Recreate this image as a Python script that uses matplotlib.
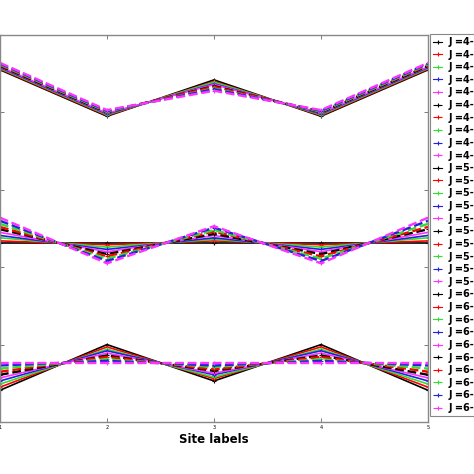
import matplotlib
matplotlib.use("Agg")
import matplotlib.pyplot as plt

sites = [1, 2, 3, 4, 5]
colors = ['#000000', '#ff0000', '#33dd33', '#2222dd', '#ff33ff']

# J = 4 family (10 curves), values at sites 1..5
j4_values = [
    [4.55, 3.95, 4.42, 3.95, 4.55],
    [4.56, 3.96, 4.40, 3.96, 4.56],
    [4.57, 3.97, 4.39, 3.97, 4.57],
    [4.58, 3.98, 4.37, 3.98, 4.58],
    [4.59, 3.99, 4.36, 3.99, 4.59],
    [4.60, 4.00, 4.34, 4.00, 4.60],
    [4.61, 4.01, 4.33, 4.01, 4.61],
    [4.62, 4.01, 4.31, 4.01, 4.62],
    [4.63, 4.02, 4.30, 4.02, 4.63],
    [4.64, 4.03, 4.28, 4.03, 4.64],
]
# J = 5 family
j5_values = [
    [2.31, 2.31, 2.31, 2.31, 2.31],
    [2.34, 2.29, 2.34, 2.29, 2.34],
    [2.38, 2.26, 2.36, 2.26, 2.38],
    [2.41, 2.23, 2.38, 2.23, 2.41],
    [2.45, 2.20, 2.41, 2.20, 2.45],
    [2.49, 2.17, 2.43, 2.17, 2.49],
    [2.52, 2.14, 2.46, 2.14, 2.52],
    [2.56, 2.11, 2.48, 2.11, 2.56],
    [2.60, 2.08, 2.51, 2.08, 2.60],
    [2.64, 2.05, 2.53, 2.05, 2.64],
]
# J = 6 family
j6_values = [
    [0.41, 1.00, 0.53, 1.00, 0.41],
    [0.45, 0.97, 0.56, 0.97, 0.45],
    [0.49, 0.94, 0.58, 0.94, 0.49],
    [0.53, 0.92, 0.61, 0.92, 0.53],
    [0.57, 0.89, 0.63, 0.89, 0.57],
    [0.61, 0.86, 0.66, 0.86, 0.61],
    [0.65, 0.84, 0.68, 0.84, 0.65],
    [0.69, 0.81, 0.71, 0.81, 0.69],
    [0.73, 0.79, 0.73, 0.79, 0.73],
    [0.76, 0.76, 0.76, 0.76, 0.76],
]
families = [("4", j4_values), ("5", j5_values), ("6", j6_values)]
suffixes = ["0.1", "0.2", "0.3", "0.4", "0.5", "0.6", "0.7", "0.8", "0.9", "1.0"]

fig = plt.figure(figsize=(4.74, 4.74), dpi=100)
ax = fig.add_axes([0.0, 52 / 474, 428 / 474, 387 / 474])

for jname, rows in families:
    for k, row in enumerate(rows):
        ls = '-' if k < 5 else '--'
        lw = 1.2 if k < 5 else 1.7
        ax.plot(sites, row, color=colors[k % 5], linestyle=ls, linewidth=lw,
                marker='+', markersize=3, markeredgewidth=0.8,
                label=f"J ={jname}-{suffixes[k]}")

ax.set_xlim(1, 5)
ax.set_ylim(0, 5)
ax.set_xticks(sites)
ax.set_yticks([0, 1, 2, 3, 4, 5])
ax.tick_params(direction='in', top=True, right=True, labelsize=3.5,
               length=3, width=0.6, color='#666666', pad=2)
ax.set_yticklabels([])
for s in ax.spines.values():
    s.set_color('#888888')
    s.set_linewidth(1.0)
ax.set_xlabel("Site labels", fontsize=8.5, fontweight='bold', labelpad=2)

leg = ax.legend(loc='upper left', bbox_to_anchor=(1.0047, 1.0026), borderaxespad=0,
                prop={'weight': 'bold', 'size': 7}, labelspacing=0.27,
                handlelength=0.95, handletextpad=0.7, borderpad=0.3,
                fancybox=False, edgecolor='#888888', framealpha=1)
leg.get_frame().set_linewidth(0.8)
for h in leg.get_lines():
    h.set_linewidth(0.8)
    h.set_markersize(2.5)

fig.savefig("out.png", dpi=100)
